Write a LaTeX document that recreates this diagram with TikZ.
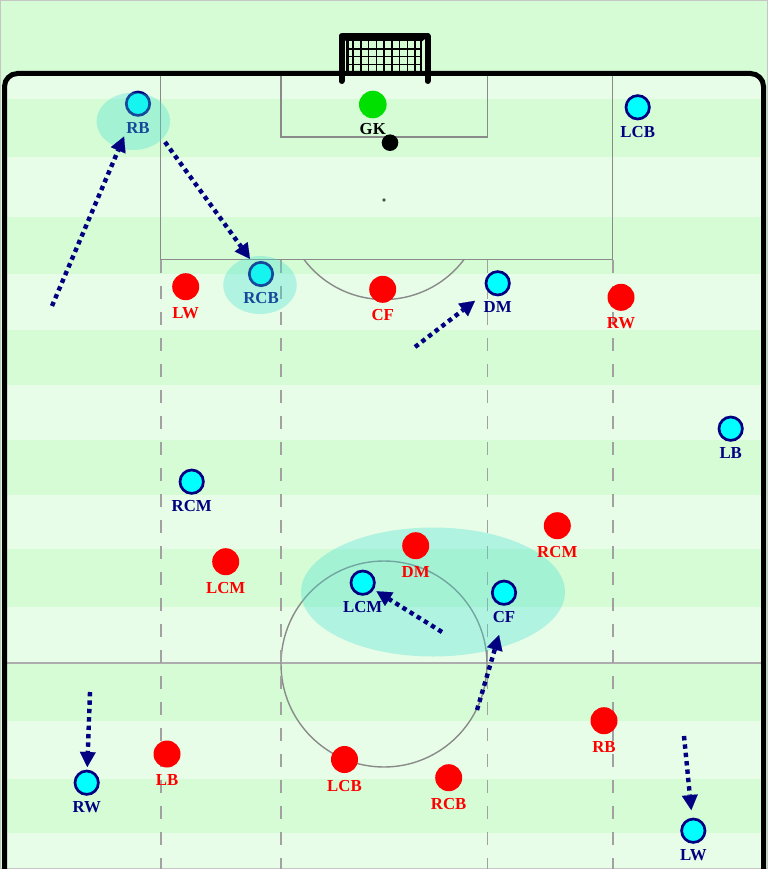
\documentclass[tikz,border=0pt]{standalone}
\usepackage{fontspec}
\setmainfont{Liberation Serif}
\usetikzlibrary{arrows.meta}
\usetikzlibrary{positioning}

\definecolor{Navy}{HTML}{000080}
\definecolor{Cyan}{HTML}{00FFFF}
\definecolor{Red}{HTML}{FF0000}
\definecolor{KeeperGreen}{HTML}{00E000}
\definecolor{GrassDark}{HTML}{D6FCD6}
\definecolor{GrassLight}{HTML}{E8FDE8}
\definecolor{Marking}{HTML}{8A8A8A}
\definecolor{Turq}{HTML}{40E0D0}

\tikzset{
  % pitch markings
  markline/.style={draw=Marking,line width=1.4pt},
  channel/.style={draw=Marking!80,line width=1.4pt,dash pattern=on 13pt off 13pt},
  hilite/.style={fill=Turq,fill opacity=.33},
  % players and their names
  lbl/.style={font=\fontsize{16.8}{18}\selectfont\bfseries,inner sep=0pt,yshift=-6.7pt},
  player/.style={circle,inner sep=0pt,outer sep=0pt},
  blue/.style={player,draw=Navy,line width=2.7pt,fill=Cyan,minimum size=23.4pt,
    label={[lbl,text=Navy]below:#1}},
  red/.style={player,fill=Red,minimum size=27pt,
    label={[lbl,text=Red]below:#1}},
  keeper/.style={player,fill=KeeperGreen,minimum size=27.6pt,
    label={[lbl,text=black,yshift=1.9pt]below:#1}},
  % dotted runs
  run/.style={draw=Navy,line width=4.4pt,dash pattern=on 4.4pt off 4pt,
    -{Triangle[length=15pt,width=16pt,line width=0.1pt]}},
}

\begin{document}
\begin{tikzpicture}[x=1pt,y=-1pt]
  \useasboundingbox (0,0) rectangle (768,869);

  % grass stripes
  \fill[GrassDark] (0,0) rectangle (768,869);
  \foreach \top/\bot in {73/99,157/217,274/329.5,385/440,495/549,607/663,720.5/779,833/869}
    \fill[GrassLight] (5,\top) rectangle (763,\bot);
  \draw[gray!45,line width=1pt] (0.5,0.5) rectangle (767.5,868.5);

  % boxes, spot, arc, halfway line, centre circle
  \draw[markline] (160.3,73) -- (160.3,259.5) -- (612.7,259.5) -- (612.7,73);
  \draw[markline] (281,73) -- (281,137) -- (487.3,137) -- (487.3,73);
  \fill[Marking!60!black] (384,200) circle[radius=1.8];
  \draw[markline] (464,259.5) arc[start angle=36.87,end angle=143.13,radius=100];
  \draw[markline,draw=Marking!70] (5,663) -- (763,663);
  \draw[markline] (384,664) circle[radius=103];

  % channels
  \foreach \x in {161,281,487.3,613}
    \draw[channel] (\x,260) -- (\x,869);

  % touchline
  \draw[line width=5pt,rounded corners=13pt] (4.5,900) -- (4.5,73.5) -- (763.5,73.5) -- (763.5,900);

  % goal
  \foreach \x in {353,360.75,...,415}
    \draw[line width=1.5pt] (\x,40) -- (\x,73);
  \foreach \y in {49,56.7,64.3}
    \draw[line width=1.5pt] (347.5,\y) -- (420.7,\y);
  \draw[line width=2.4pt] (347.5,73) -- (347.5,40) -- (420.7,40) -- (420.7,73);
  \draw[line width=2.2pt] (342,36) -- (347.5,41) (427,36) -- (420.7,41);
  \draw[line width=6pt,line cap=round,line join=round] (341.5,81) -- (341.5,36) -- (427.5,36) -- (427.5,81);

  % overload zone
  \fill[hilite] (433,592) ellipse[x radius=132,y radius=64.5];

  % reds
  \node[red=LW] (rLW) at (185.7,286.7) {};
  \node[red=CF] (rCF) at (382.7,289.3) {};
  \node[red=RW] (rRW) at (621,297.3) {};
  \node[red=RCM] (rRCM) at (557.3,525.7) {};
  \node[red=DM] (rDM) at (415.7,545.7) {};
  \node[red=LCM] (rLCM) at (225.7,561.7) {};
  \node[red=RB] (rRB) at (604,720.7) {};
  \node[red=LB] (rLB) at (167,754) {};
  \node[red=LCB] (rLCB) at (344.5,759.5) {};
  \node[red=RCB] (rRCB) at (448.7,777.7) {};

  % blues
  \node[keeper=GK] (gk) at (372.8,104.5) {};
  \node[blue=RB] (bRB) at (138,103.7) {};
  \node[blue=LCB] (bLCB) at (637.7,107.3) {};
  \node[blue=RCB] (bRCB) at (261,274) {};
  \node[blue=DM] (bDM) at (497.7,283.3) {};
  \node[blue=LB] (bLB) at (730.7,428.7) {};
  \node[blue=RCM] (bRCM) at (191.7,481.7) {};
  \node[blue=LCM] (bLCM) at (362.7,582.7) {};
  \node[blue=CF] (bCF) at (504,592.7) {};
  \node[blue=RW] (bRW) at (86.7,782.7) {};
  \node[blue=LW] (bLW) at (693.3,830.7) {};

  % ball
  \node[circle,fill=black,minimum size=16.6pt,inner sep=0pt] (ball) at (390,142.7) {};

  % back line pressure
  \fill[hilite] (133.3,121.3) ellipse[x radius=36.7,y radius=28.7];
  \fill[hilite] (260,285) ellipse[x radius=36.7,y radius=29];

  % runs
  \coordinate (rbFrom) at (52,306);
  \coordinate (rcbFrom) at (165,142);
  \coordinate (dmFrom) at (415,347);
  \coordinate (lcmFrom) at (442,632);
  \coordinate (cfFrom) at (477,710);
  \coordinate (cfTo) at (499,635);
  \coordinate (rwFrom) at (90,692);
  \coordinate (lwFrom) at (684,736);
  \draw[run,shorten >=24pt] (rbFrom) -- (bRB);
  \draw[run,shorten >=7pt] (rcbFrom) -- (bRCB);
  \draw[run,shorten >=17pt] (dmFrom) -- (bDM);
  \draw[run,shorten >=4.5pt] (lcmFrom) -- (bLCM);
  \draw[run] (cfFrom) -- (cfTo);
  \draw[run,shorten >=4pt] (rwFrom) -- (bRW);
  \draw[run,shorten >=9pt] (lwFrom) -- (bLW);
\end{tikzpicture}
\end{document}
